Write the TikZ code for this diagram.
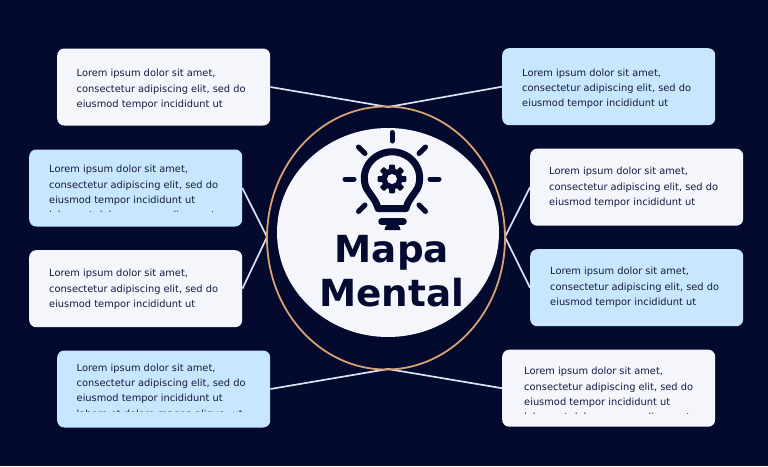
\documentclass[tikz,border=0pt]{standalone}
\usepackage{fontspec}
\usetikzlibrary{shapes.geometric}
\setmainfont{DejaVu Sans}
\definecolor{bgc}{HTML}{030A2E}
\definecolor{ink}{HTML}{050A30}
\definecolor{txt}{HTML}{141A40}
\definecolor{whitebox}{HTML}{F4F6FC}
\definecolor{bluebox}{HTML}{C9E6FF}
\definecolor{ringc}{HTML}{D9A074}
\definecolor{linkc}{HTML}{D6E3F5}
\tikzset{
  cardbox/.style={minimum width=213pt,minimum height=77pt,rounded corners=7pt,inner sep=0pt,anchor=north west},
  pale/.style={cardbox,fill=whitebox},
  sky/.style={cardbox,fill=bluebox},
  cardtext/.style={anchor=north west,inner sep=0pt,align=left,text=txt,font=\fontsize{9.85}{15.4}\selectfont},
  link/.style={draw=linkc,line width=1.7pt},
  rayline/.style={draw=ink,line width=5pt,line cap=round},
  titletext/.style={text=ink,font=\fontsize{37.3}{44}\selectfont\bfseries,inner sep=0pt,anchor=base}
}
\newcommand{\threelines}{Lorem ipsum dolor sit amet,\\consectetur adipiscing elit, sed do\\eiusmod tempor incididunt ut}
\newcommand{\fourlines}{\threelines\\labore et dolore magna aliqua. ut}
\begin{document}
\begin{tikzpicture}[x=1pt,y=-1pt]
\useasboundingbox (0,0) rectangle (768,466);
\fill[bgc] (0,0) rectangle (768,466);
% cards
\node[pale] (c1) at (57,48.3) {};
\node[sky]  (c2) at (502,48) {};
\node[sky]  (c3) at (29,149.3) {};
\node[pale] (c4) at (530,148.5) {};
\node[pale] (c5) at (29,250) {};
\node[sky]  (c6) at (530,249) {};
\node[sky]  (c7) at (57,350.3) {};
\node[pale] (c8) at (502,349.5) {};
% hubs
\coordinate (jt) at (388,107);
\coordinate (jl) at (267,237);
\coordinate (jr) at (505,237);
\coordinate (jb) at (388,369);
\draw[link] (c1.east) -- (jt);
\draw[link] (c2.west) -- (jt);
\draw[link] (c3.east) -- (jl);
\draw[link] (c5.east) -- (jl);
\draw[link] (c4.west) -- (jr);
\draw[link] (c6.west) -- (jr);
\draw[link] (c7.east) -- (jb);
\draw[link] (c8.west) -- (jb);
% ellipses
\node[draw=ringc,line width=1.8pt,shape=ellipse,minimum width=238pt,minimum height=263pt,inner sep=0pt] (ring) at (386,238) {};
\node[fill=whitebox,shape=ellipse,minimum width=222pt,minimum height=209pt,inner sep=0pt] (hub) at (388,232.5) {};
% texts
\node[cardtext] (t1) at (76.5,69) {\threelines};
\node[cardtext] (t2) at (522,68.5) {\threelines};
\begin{scope}
\clip (29,150) rectangle (242,211.8);
\node[cardtext] (t3) at (49,165) {\fourlines};
\end{scope}
\node[cardtext] (t4) at (549,167) {\threelines};
\node[cardtext] (t5) at (49,269) {\threelines};
\node[cardtext] (t6) at (550,267) {\threelines};
\begin{scope}
\clip (57,351) rectangle (270,411.8);
\node[cardtext] (t7) at (76.5,363.5) {\fourlines};
\end{scope}
\begin{scope}
\clip (502,350) rectangle (715,413.5);
\node[cardtext] (t8) at (524,367) {\fourlines};
\end{scope}
% title
\node[titletext] (m1) at (391.8,262) {Mapa};
\node[titletext] (m2) at (391.8,306) {Mental};
% rays
\draw[rayline] (392,132.5) -- (392,141);
\draw[rayline] (345,179) -- (354,179);
\draw[rayline] (430,179) -- (439,179);
\draw[rayline] (358.5,147) -- (365,153.5);
\draw[rayline] (425.5,147) -- (419,153.5);
\draw[rayline] (358.5,211.5) -- (365,205);
\draw[rayline] (425.5,211.5) -- (419,205);
% bulb
\draw[draw=ink,line width=7pt,line join=round]
  (378,208.5) -- (406,208.5)
  .. controls (408,199) and (416,193) .. (418.5,186)
  .. controls (424,167) and (409,151.8) .. (392,151.8)
  .. controls (375,151.8) and (360,167) .. (365.5,186)
  .. controls (368,193) and (376,199) .. (378,208.5) -- cycle;
\draw[rayline,line width=6.5pt] (381.5,221.5) -- (403.5,221.5);
\fill[ink] (384.5,230) -- (400.5,230) arc[start angle=0,end angle=180,x radius=8,y radius=-7];
% gear
\fill[ink] (392,179) circle[radius=10.5];
\foreach \a in {0,45,90,135} {
  \fill[ink,rotate around={\a:(392,179)},rounded corners=1pt] (389,164.6) rectangle (395,193.4);
}
\fill[whitebox] (392,179) circle[radius=5];
\end{tikzpicture}
\end{document}
